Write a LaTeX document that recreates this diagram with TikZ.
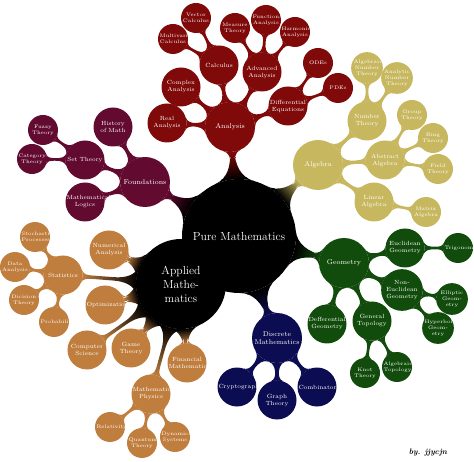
\documentclass[tikz,border=0pt]{standalone}
\usetikzlibrary{mindmap,backgrounds}
\definecolor{cRed}{RGB}{128,10,10}
\definecolor{cPur}{RGB}{98,10,48}
\definecolor{cYel}{RGB}{199,184,96}
\definecolor{cOra}{RGB}{192,126,62}
\definecolor{cNav}{RGB}{12,12,82}
\definecolor{cGre}{RGB}{18,76,12}
\begin{document}
\begin{tikzpicture}[mindmap, x=1pt, y=-1pt,
  base/.style={concept, circle, inner sep=0pt, text=white, align=center, draw=none},
  rootc/.style={base, concept color=black, fill=black, minimum size=114pt, text width=100pt, font=\fontsize{11.7}{14}\selectfont},
  rootb/.style={base, concept color=black, fill=black, minimum size=90pt, text width=60pt, font=\fontsize{11.7}{14}\selectfont},
  lone/.style={base, concept color=#1, fill=#1, minimum size=50pt, text width=46pt, font=\fontsize{7}{8.2}\selectfont},
  ltwo/.style={base, concept color=#1, fill=#1, minimum size=39pt, text width=37pt, font=\fontsize{6}{7}\selectfont},
  lthree/.style={base, concept color=#1, fill=#1, minimum size=30pt, text width=27pt, font=\fontsize{5.1}{6}\selectfont},
  bA/.style={line width=8pt},
  bB/.style={line width=5pt},
  bC/.style={line width=3.5pt},
]
\useasboundingbox (0,0) rectangle (474,462);
% roots
\node[rootc] (pure) at (239,236) {Pure Mathematics};
\node[rootb] (appl) at (181,284) {Applied\\Mathe-\\matics};
% Analysis
\node[lone=cRed] (ana) at (230,127) {Analysis};
\node[ltwo=cRed] (real) at (167,123) {Real\\Analysis};
\node[ltwo=cRed] (cplx) at (181,87) {Complex\\Analysis};
\node[ltwo=cRed] (calc) at (219,65) {Calculus};
\node[lthree=cRed] (multi) at (173,39) {Multivariable\\Calculus};
\node[lthree=cRed] (vect) at (196,18) {Vector\\Calculus};
\node[ltwo=cRed] (adv) at (262,72) {Advanced\\Analysis};
\node[lthree=cRed] (meas) at (235,28) {Measure\\Theory};
\node[lthree=cRed] (func) at (266,20) {Functional\\Analysis};
\node[lthree=cRed] (harm) at (295,32) {Harmonic\\Analysis};
\node[ltwo=cRed] (deq) at (288,106) {Differential\\Equations};
\node[lthree=cRed] (odes) at (318,63) {ODEs};
\node[lthree=cRed] (pdes) at (338,88) {PDEs};
% Algebra
\node[lone=cYel] (alg) at (318,165) {Algebra};
\node[ltwo=cYel] (nt) at (367,121) {Number\\Theory};
\node[lthree=cYel] (ant) at (367,68) {Algebraic\\Number\\Theory};
\node[lthree=cYel] (anat) at (397,78) {Analytic\\Number\\Theory};
\node[ltwo=cYel] (abs) at (385,160) {Abstract\\Algebra};
\node[lthree=cYel] (grp) at (412,115) {Group\\Theory};
\node[lthree=cYel] (ring) at (433,138) {Ring\\Theory};
\node[lthree=cYel] (field) at (438,169) {Field\\Theory};
\node[ltwo=cYel] (lin) at (374,202) {Linear\\Algebra};
\node[lthree=cYel] (mat) at (426,212) {Matrix\\Algebra};
% Foundations
\node[lone=cPur] (fnd) at (145,182) {Foundations};
\node[ltwo=cPur] (hist) at (113,127) {History\\of Math};
\node[ltwo=cPur] (set) at (85,160) {Set Theory};
\node[lthree=cPur] (fuzzy) at (43,130) {Fuzzy\\Theory};
\node[lthree=cPur] (cat) at (32,159) {Category\\Theory};
\node[ltwo=cPur] (logic) at (85,202) {Mathematical\\Logics};
% Applied
\node[ltwo=cOra] (stat) at (63,275) {Statistics};
\node[lthree=cOra] (stoch) at (35,237) {Stochastic\\Processes};
\node[lthree=cOra] (data) at (15,267) {Data\\Analysis};
\node[lthree=cOra] (dec) at (24,300) {Dicision\\Theory};
\node[lthree=cOra] (prob) at (54,322) {Probability};
\node[ltwo=cOra] (num) at (109,250) {Numerical\\Analysis};
\node[ltwo=cOra] (opt) at (105,305) {Optimization};
\node[ltwo=cOra] (cs) at (87,350) {Computer\\Science};
\node[ltwo=cOra] (game) at (131,348) {Game Theory};
\node[ltwo=cOra] (fin) at (187,363) {Financial\\Mathematics};
\node[ltwo=cOra] (phys) at (151,394) {Mathematical\\Physics};
\node[lthree=cOra] (rel) at (110,427) {Relativity};
\node[lthree=cOra] (qt) at (142,443) {Quantum\\Theory};
\node[lthree=cOra] (dyn) at (175,437) {Dynamical\\Systems};
% Discrete
\node[lone=cNav] (disc) at (277,338) {Discrete\\Mathematics};
\node[ltwo=cNav] (crypt) at (237,387) {Cryptography};
\node[ltwo=cNav] (graph) at (277,400) {Graph\\Theory};
\node[ltwo=cNav] (comb) at (317,387) {Combinatorics};
% Geometry
\node[lone=cGre] (geo) at (344,263) {Geometry};
\node[ltwo=cGre] (euc) at (405,248) {Euclidean\\Geometry};
\node[lthree=cGre] (trig) at (458,248) {Trigonometry};
\node[ltwo=cGre] (neuc) at (402,290) {Non-\\Euclidean\\Geometry};
\node[lthree=cGre] (ell) at (452,299) {Elliptic\\Geom-\\etry};
\node[lthree=cGre] (hyp) at (438,328) {Hyperbolic\\Geom-\\etry};
\node[ltwo=cGre] (gtop) at (372,321) {General\\Topology};
\node[ltwo=cGre] (dgeo) at (327,324) {Defferential\\Geometry};
\node[lthree=cGre] (knot) at (365,373) {Knot\\Theory};
\node[lthree=cGre] (atop) at (397,367) {Algebraic\\Topology};
% signature
\node[rectangle, draw=none, fill=none, text=black, font=\fontsize{8}{9}\selectfont\bfseries\itshape] (sig) at (428,453) {by. jjycjn};
\begin{scope}[on background layer]
% connections root
\path (pure) to[circle connection bar switch color=from (black) to (cRed), bA] (ana);
\path (pure) to[circle connection bar switch color=from (black) to (cYel), bA] (alg);
\path (pure) to[circle connection bar switch color=from (black) to (cGre), bA] (geo);
\path (pure) to[circle connection bar switch color=from (black) to (cNav), bA] (disc);
\path (pure) to[circle connection bar switch color=from (black) to (cPur), bA] (fnd);
\path (pure) to[circle connection bar switch color=from (black) to (black), bA] (appl);
\foreach \t in {stat,num,opt,cs,game,fin,phys}
  \path (appl) to[circle connection bar switch color=from (black) to (cOra), bB] (\t);
% red
\foreach \t in {real,cplx,calc,adv,deq}
  \path (ana) to[circle connection bar switch color=from (cRed) to (cRed), bB] (\t);
\foreach \a/\b in {calc/multi,calc/vect,adv/meas,adv/func,adv/harm,deq/odes,deq/pdes}
  \path (\a) to[circle connection bar switch color=from (cRed) to (cRed), bC] (\b);
% yellow
\foreach \t in {nt,abs,lin}
  \path (alg) to[circle connection bar switch color=from (cYel) to (cYel), bB] (\t);
\foreach \a/\b in {nt/ant,nt/anat,abs/grp,abs/ring,abs/field,lin/mat}
  \path (\a) to[circle connection bar switch color=from (cYel) to (cYel), bC] (\b);
% purple
\foreach \t in {hist,set,logic}
  \path (fnd) to[circle connection bar switch color=from (cPur) to (cPur), bB] (\t);
\foreach \a/\b in {set/fuzzy,set/cat}
  \path (\a) to[circle connection bar switch color=from (cPur) to (cPur), bC] (\b);
% orange
\foreach \a/\b in {stat/stoch,stat/data,stat/dec,stat/prob,phys/rel,phys/qt,phys/dyn}
  \path (\a) to[circle connection bar switch color=from (cOra) to (cOra), bC] (\b);
% navy
\foreach \t in {crypt,graph,comb}
  \path (disc) to[circle connection bar switch color=from (cNav) to (cNav), bB] (\t);
% green
\foreach \t in {euc,neuc,gtop,dgeo}
  \path (geo) to[circle connection bar switch color=from (cGre) to (cGre), bB] (\t);
\foreach \a/\b in {euc/trig,neuc/ell,neuc/hyp,gtop/knot,gtop/atop}
  \path (\a) to[circle connection bar switch color=from (cGre) to (cGre), bC] (\b);
\end{scope}
\end{tikzpicture}
\end{document}
